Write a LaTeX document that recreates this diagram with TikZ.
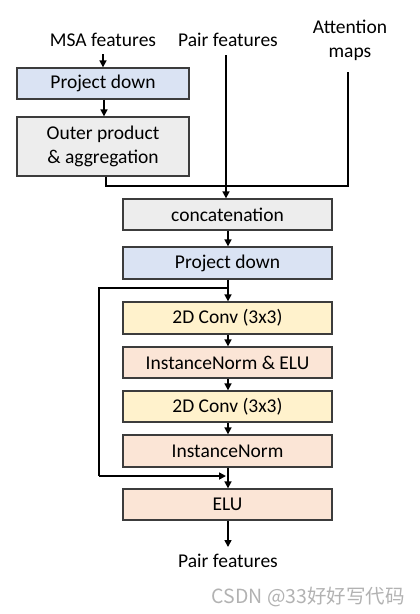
\documentclass[tikz,border=0pt]{standalone}
\usepackage{fontspec}
\setmainfont{Carlito}
\newfontfamily\cjk{Noto Sans CJK SC}
\usetikzlibrary{arrows.meta}
\definecolor{bblue}{RGB}{218,227,243}
\definecolor{bgray}{RGB}{237,237,237}
\definecolor{byell}{RGB}{255,242,204}
\definecolor{bpeach}{RGB}{251,229,214}
\definecolor{bedge}{RGB}{60,60,60}
\tikzset{
  blk/.style={draw=bedge, line width=1.3pt, minimum height=31pt, inner sep=0pt, align=center, font=\fontsize{19.5}{23.5}\selectfont},
  lbl/.style={inner sep=0pt, align=center, font=\fontsize{19.5}{24}\selectfont},
  conn/.style={line width=1.6pt, black},
  arr/.style={conn, -{Triangle[length=7pt,width=7pt]}}
}
\begin{document}
\begin{tikzpicture}[x=1pt,y=-1pt]
\useasboundingbox (0,0) rectangle (420,614);
% labels
\node[lbl] (msa) at (103,40) {MSA features};
\node[lbl] (pairin) at (228,40) {Pair features};
\node[lbl] (att) at (350,40) {Attention\\maps};
\node[lbl] (pairout) at (228,561) {Pair features};
% boxes
\node[blk, fill=bblue, minimum width=172pt] (pd1) at (103,83.5) {Project down};
\node[blk, fill=bgray, minimum width=172pt, minimum height=59pt] (outer) at (103,146.5) {Outer product\\\& aggregation};
\node[blk, fill=bgray, minimum width=209pt] (concat) at (227.5,214.5) {concatenation};
\node[blk, fill=bblue, minimum width=209pt, minimum height=32pt] (pd2) at (227.5,263) {Project down};
\node[blk, fill=byell, minimum width=209pt, minimum height=32pt] (conv1) at (227.5,318) {2D Conv (3x3)};
\node[blk, fill=bpeach, minimum width=209pt] (inelu) at (227.5,362.5) {InstanceNorm \& ELU};
\node[blk, fill=byell, minimum width=209pt] (conv2) at (227.5,406.5) {2D Conv (3x3)};
\node[blk, fill=bpeach, minimum width=209pt, minimum height=32pt] (inorm) at (227.5,451) {InstanceNorm};
\node[blk, fill=bpeach, minimum width=209pt] (elu) at (227.5,504.5) {ELU};
% helper coordinates
\coordinate (msaS) at (103,54);
\coordinate (pairS) at (226,55);
\coordinate (attS) at (348,72);
\coordinate (mergeL) at (106,186);
\coordinate (mergeR) at (348,186);
\coordinate (split) at (228,288);
\coordinate (skipTL) at (99,288);
\coordinate (skipBL) at (99,476);
\coordinate (skipEnd) at (226,476);
\coordinate (outEnd) at (228,547);
% connectors
\draw[arr] (msaS) -- (pd1.north -| msaS);
\draw[arr] (pd1.south -| 104,0) -- (outer.north -| 104,0);
\draw[conn] (outer.south -| mergeL) -- (mergeL) -- (mergeR) -- (attS);
\draw[arr] (pairS) -- (concat.north -| pairS);
\draw[arr] (concat.south -| 228,0) -- (pd2.north -| 228,0);
\draw[arr] (pd2.south -| 228,0) -- (conv1.north -| 228,0);
\draw[conn] (split) -- (skipTL) -- (skipBL);
\draw[arr] (skipBL) -- (skipEnd);
\draw[arr] (conv1.south -| 228,0) -- (inelu.north -| 228,0);
\draw[arr] (inelu.south -| 228,0) -- (conv2.north -| 228,0);
\draw[arr] (conv2.south -| 228,0) -- (inorm.north -| 228,0);
\draw[arr] (inorm.south -| 228,0) -- (elu.north -| 228,0);
\draw[arr] (elu.south -| 228,0) -- (outEnd);
% watermark
\node[inner sep=0pt, anchor=east, text=black!30, font=\cjk\fontsize{19.5}{22}\selectfont] (wm) at (405,597) {CSDN @33好好写代码};
\end{tikzpicture}
\end{document}
